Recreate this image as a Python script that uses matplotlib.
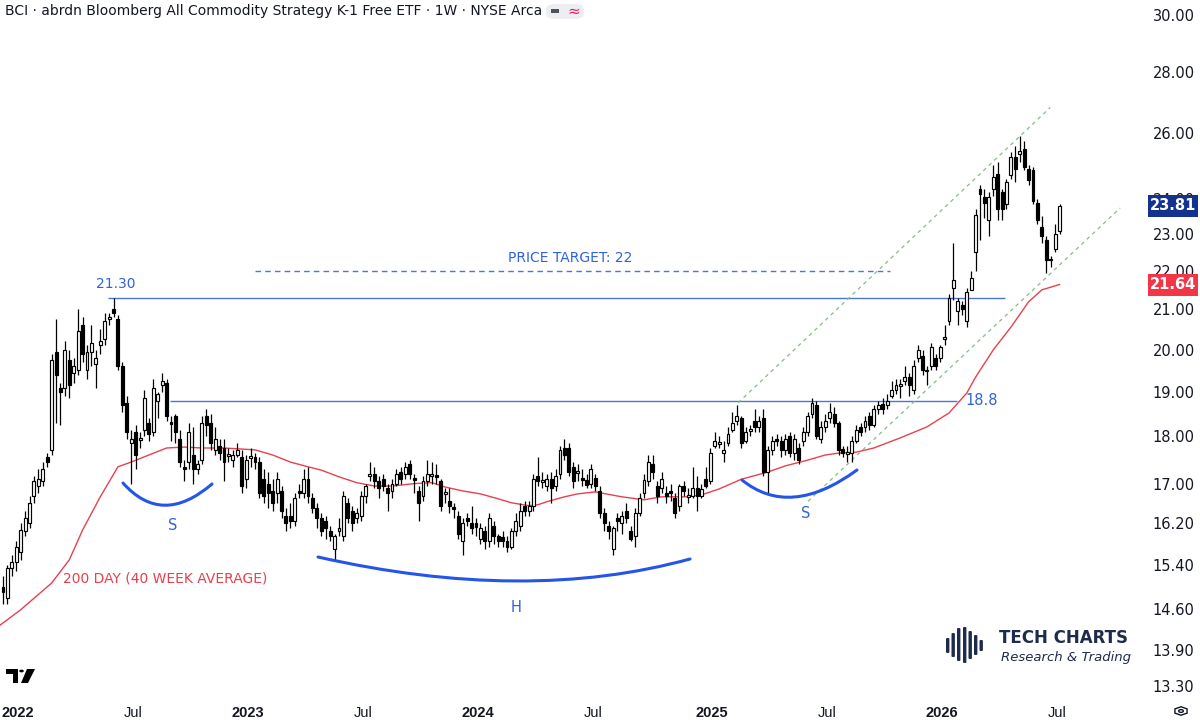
import numpy as np
import pandas as pd
import matplotlib
matplotlib.use("Agg")
import matplotlib.pyplot as plt
from matplotlib.patches import FancyBboxPatch, Polygon, Circle, RegularPolygon, Rectangle, PathPatch
from matplotlib.path import Path
from matplotlib.ticker import NullLocator, NullFormatter
from matplotlib.transforms import ScaledTranslation

plt.rcParams['font.family'] = ['DejaVu Sans']

# weekly candles of BCI, first bar week of 2021-12-13
first_week = '2021-12-13'

opens = [15.0, 14.8, 15.35, 15.45, 15.65, 16.05, 16.2, 16.75, 16.95, 17.05,
         17.55, 17.7, 19.95, 19.1, 19.1, 19.75, 19.45, 19.5, 20.6, 19.5,
         19.95, 19.65, 20.1, 20.25, 20.75, 21.0, 20.75, 19.6, 18.75, 17.85,
         18.1, 17.92, 18.15, 18.3, 18.1, 18.8, 19.15, 19.2, 18.32, 18.45,
         17.95, 17.35, 17.45, 17.6, 17.3, 17.5, 18.45, 18.3, 17.7, 17.8,
         17.75, 17.58, 17.5, 17.6, 17.55, 17.1, 17.53, 17.55, 17.45, 17.1,
         17.0, 16.85, 16.8, 16.85, 16.35, 16.35, 16.25, 16.85, 16.8, 17.1,
         16.7, 16.5, 16.3, 16.25, 16.05, 15.7, 16.05, 15.95, 16.6, 16.45,
         16.3, 16.35, 16.75, 17.15, 17.2, 17.05, 17.1, 16.9, 16.85, 17.0,
         17.25, 17.2, 17.4, 17.12, 16.85, 16.75, 17.05, 17.15, 17.17, 17.05,
         16.78, 16.65, 16.52, 16.35, 15.85, 16.3, 16.2, 16.2, 15.9, 16.05,
         15.85, 16.15, 15.95, 15.93, 15.85, 15.75, 16.05, 16.15, 16.55, 16.45,
         16.55, 17.15, 17.03, 16.95, 17.1, 16.95, 17.2, 17.75, 17.75, 17.35,
         17.23, 17.12, 17.08, 17.0, 17.12, 16.85, 16.4, 16.15, 15.7, 16.3,
         16.2, 16.45, 16.05, 15.95, 16.4, 16.8, 17.05, 17.4, 16.95, 16.9,
         16.8, 16.85, 16.7, 16.55, 16.95, 16.73, 16.75, 16.9, 16.75, 17.1,
         17.05, 17.8, 17.83, 17.65, 17.85, 18.15, 18.35, 18.4, 17.9, 18.13,
         18.35, 18.2, 18.4, 17.25, 17.7, 17.95, 17.9, 17.7, 18.0, 17.65,
         17.75, 17.9, 18.1, 18.5, 18.7, 17.95, 18.2, 18.4, 18.5, 18.3,
         17.72, 17.63, 17.65, 17.9, 18.2, 18.2, 18.45, 18.25, 18.6, 18.72,
         18.7, 18.9, 19.05, 19.13, 19.25, 19.35, 19.05, 19.8, 19.85, 19.48,
         19.6, 19.8, 19.8, 20.25, 20.7, 21.55, 20.95, 21.1, 20.7, 21.5,
         22.5, 24.3, 24.05, 23.4, 24.3, 24.75, 24.2, 23.85, 24.7, 25.25,
         25.35, 25.5, 24.9, 24.85, 23.9, 23.2, 22.85, 22.28, 22.6, 23.1]

highs = [15.2, 15.4, 15.6, 15.85, 16.2, 16.45, 16.75, 17.15, 17.3, 17.45,
         17.65, 19.9, 20.75, 19.2, 20.2, 20.0, 19.8, 21.0, 20.8, 20.1,
         20.6, 20.0, 20.5, 20.9, 20.9, 21.3, 20.85, 19.7, 18.9, 18.15,
         18.25, 18.1, 19.05, 18.4, 19.3, 19.0, 19.45, 19.3, 18.45, 18.5,
         18.15, 17.5, 18.3, 18.2, 17.5, 18.45, 18.6, 18.5, 18.2, 17.95,
         17.95, 17.75, 17.7, 17.85, 17.7, 17.6, 17.75, 17.65, 17.55, 17.3,
         17.25, 17.1, 17.25, 16.95, 16.5, 16.6, 16.8, 17.0, 17.3, 17.35,
         16.8, 16.6, 16.4, 16.35, 16.15, 16.0, 16.3, 16.85, 16.7, 16.55,
         16.5, 16.85, 17.0, 17.45, 17.35, 17.15, 17.2, 17.0, 17.1, 17.3,
         17.35, 17.45, 17.5, 17.2, 16.95, 17.15, 17.5, 17.45, 17.4, 17.1,
         16.9, 16.9, 16.6, 16.45, 16.3, 16.4, 16.55, 16.3, 16.2, 16.15,
         16.4, 16.25, 16.0, 16.05, 15.95, 16.1, 16.4, 16.6, 16.65, 16.65,
         17.2, 17.55, 17.25, 17.2, 17.25, 17.3, 17.8, 17.95, 17.85, 17.45,
         17.4, 17.3, 17.2, 17.4, 17.2, 16.95, 16.5, 16.25, 16.15, 16.4,
         16.45, 16.6, 16.15, 16.5, 16.8, 17.2, 17.6, 17.6, 17.05, 17.25,
         16.95, 17.0, 16.8, 17.0, 17.05, 16.9, 17.35, 17.15, 17.0, 17.35,
         17.75, 18.1, 18.0, 17.9, 18.2, 18.55, 18.7, 18.45, 18.2, 18.25,
         18.6, 18.45, 18.6, 17.8, 18.0, 18.05, 18.0, 18.05, 18.1, 18.05,
         17.85, 18.2, 18.55, 18.85, 18.8, 18.35, 18.5, 18.75, 18.65, 18.35,
         17.8, 17.8, 18.0, 18.25, 18.3, 18.45, 18.55, 18.7, 18.8, 18.85,
         18.95, 19.25, 19.3, 19.3, 19.6, 19.45, 19.75, 20.1, 20.0, 19.6,
         20.15, 19.9, 20.1, 20.6, 21.4, 22.75, 21.3, 21.2, 21.55, 22.0,
         23.7, 24.4, 24.3, 24.2, 25.0, 25.1, 24.3, 24.6, 25.4, 25.6,
         25.9, 25.75, 25.0, 24.95, 24.0, 23.5, 22.95, 22.4, 23.3, 23.85]

lows = [14.7, 14.7, 15.2, 15.3, 15.5, 15.95, 16.1, 16.6, 16.8, 16.95,
        17.35, 17.6, 18.3, 18.25, 18.9, 18.85, 19.2, 19.4, 19.7, 19.3,
        19.6, 19.1, 19.9, 20.1, 20.6, 20.8, 19.5, 18.55, 17.95, 17.0,
        17.3, 17.75, 18.0, 17.9, 18.0, 18.4, 19.0, 18.35, 17.9, 17.85,
        17.35, 17.05, 17.3, 17.0, 17.2, 17.4, 18.0, 17.7, 17.6, 17.5,
        17.05, 17.45, 17.35, 17.55, 16.8, 16.9, 17.35, 17.3, 16.7, 16.6,
        16.5, 16.45, 16.6, 16.3, 16.05, 16.1, 16.15, 16.7, 16.7, 16.6,
        16.4, 16.1, 15.95, 15.9, 15.85, 15.5, 15.95, 15.85, 16.2, 16.05,
        16.2, 16.25, 16.6, 17.05, 16.9, 16.7, 16.85, 16.45, 16.7, 16.95,
        17.0, 17.1, 17.1, 16.8, 16.25, 16.65, 16.95, 17.0, 17.0, 16.45,
        16.6, 16.4, 16.3, 15.9, 15.6, 16.15, 16.0, 15.95, 15.8, 15.7,
        15.75, 15.8, 15.75, 15.75, 15.65, 15.7, 15.95, 16.05, 16.35, 16.35,
        16.45, 16.95, 16.9, 16.85, 16.6, 16.85, 17.1, 17.5, 17.15, 16.9,
        17.05, 16.95, 16.9, 16.9, 16.85, 16.3, 16.05, 15.9, 15.6, 16.05,
        16.0, 16.2, 15.85, 15.75, 16.35, 16.7, 16.95, 17.1, 16.6, 16.8,
        16.6, 16.65, 16.3, 16.45, 16.75, 16.6, 16.7, 16.45, 16.7, 16.9,
        17.0, 17.75, 17.75, 17.45, 17.8, 18.1, 18.25, 17.75, 17.85, 18.0,
        18.1, 18.1, 17.15, 16.8, 17.6, 17.8, 17.55, 17.6, 17.55, 17.5,
        17.4, 17.8, 18.0, 18.4, 17.95, 17.85, 18.1, 18.3, 18.2, 17.6,
        17.55, 17.45, 17.45, 17.85, 18.0, 18.1, 18.15, 18.2, 18.5, 18.5,
        18.6, 18.85, 18.95, 18.85, 19.15, 18.9, 18.95, 19.7, 19.4, 19.15,
        19.5, 19.5, 19.7, 20.1, 20.6, 21.25, 20.6, 20.85, 20.55, 21.5,
        22.0, 22.85, 23.45, 22.95, 24.1, 23.4, 23.4, 23.7, 24.6, 24.5,
        25.1, 24.85, 24.4, 23.85, 23.3, 22.75, 21.95, 22.1, 22.5, 23.0]

closes = [14.9, 15.35, 15.45, 15.75, 16.07, 16.3, 16.6, 17.05, 17.1, 17.3,
          17.45, 19.75, 19.4, 19.0, 20.0, 19.15, 19.6, 20.45, 19.9, 19.95,
          20.15, 19.8, 20.2, 20.7, 20.8, 20.9, 19.6, 18.7, 18.1, 17.95,
          17.6, 17.97, 18.85, 18.05, 19.1, 18.95, 19.25, 18.45, 18.28, 18.1,
          17.45, 17.3, 18.1, 17.3, 17.4, 18.3, 18.25, 17.85, 17.95, 17.65,
          17.45, 17.62, 17.6, 17.7, 16.95, 17.5, 17.57, 17.45, 16.8, 16.75,
          16.8, 16.6, 17.1, 16.45, 16.2, 16.25, 16.7, 16.8, 17.1, 16.75,
          16.5, 16.3, 16.05, 16.1, 15.95, 15.95, 16.1, 16.75, 16.3, 16.2,
          16.4, 16.75, 16.95, 17.2, 17.05, 16.9, 16.95, 16.8, 17.0, 17.2,
          17.1, 17.35, 17.2, 17.08, 16.6, 17.05, 17.2, 17.2, 17.13, 16.55,
          16.82, 16.55, 16.48, 16.0, 16.2, 16.25, 16.1, 16.12, 16.1, 15.85,
          16.3, 15.95, 15.85, 15.85, 15.75, 16.05, 16.25, 16.45, 16.45, 16.55,
          17.1, 17.05, 17.07, 17.1, 16.9, 17.15, 17.7, 17.6, 17.25, 17.05,
          17.27, 17.08, 16.98, 17.3, 16.95, 16.4, 16.2, 16.05, 16.1, 16.25,
          16.35, 16.3, 15.9, 16.4, 16.7, 17.08, 17.45, 17.25, 16.75, 17.1,
          16.75, 16.8, 16.4, 16.95, 16.85, 16.77, 16.9, 16.75, 16.88, 16.95,
          17.65, 17.9, 17.87, 17.7, 18.05, 18.3, 18.45, 17.85, 18.1, 18.17,
          18.2, 18.35, 17.25, 17.7, 17.9, 17.9, 17.7, 17.95, 17.65, 17.95,
          17.5, 18.1, 18.45, 18.75, 18.0, 18.2, 18.35, 18.55, 18.3, 17.7,
          17.65, 17.67, 17.9, 18.15, 18.1, 18.35, 18.25, 18.6, 18.7, 18.6,
          18.8, 19.05, 19.15, 19.18, 19.35, 19.15, 19.6, 20.0, 19.5, 19.52,
          20.05, 19.6, 20.05, 20.3, 21.3, 21.75, 21.2, 21.0, 21.45, 21.8,
          23.55, 24.15, 23.9, 24.05, 24.65, 23.7, 23.7, 24.5, 25.25, 24.9,
          25.45, 24.95, 24.55, 23.95, 23.4, 22.95, 22.3, 22.33, 23.0, 23.81]

# 40 week average (week number, value)
ma_weeks = [-1, 4, 11, 15, 18, 22, 26, 29, 33, 37, 41, 45, 50, 57, 61, 65, 69, 72, 76, 80,
            84, 88, 93, 97, 100, 104, 108, 112, 115, 119, 121, 123, 127, 130, 134, 140, 145, 149, 155, 158,
            162, 167, 173, 177, 182, 186, 189, 193, 197, 200, 203, 209, 214, 218, 220, 224, 228, 232, 235, 239]
ma_values = [14.30, 14.59, 15.07, 15.50, 16.07, 16.73, 17.35, 17.45, 17.60, 17.75,
             17.77, 17.75, 17.75, 17.71, 17.60, 17.45, 17.35, 17.28, 17.14, 17.02,
             16.95, 16.95, 17.00, 17.02, 16.93, 16.85, 16.79, 16.69, 16.61, 16.55,
             16.57, 16.63, 16.73, 16.79, 16.83, 16.73, 16.67, 16.73, 16.73, 16.77,
             16.89, 17.09, 17.24, 17.37, 17.49, 17.60, 17.64, 17.66, 17.75, 17.86,
             17.97, 18.21, 18.52, 18.97, 19.34, 19.99, 20.55, 21.19, 21.50, 21.64]

price_ticks = [30, 28, 26, 24, 23, 22, 21, 20, 19, 18, 17, 16.2, 15.4, 14.6, 13.9, 13.3]
last_price = 23.81
last_ma = 21.64
neckline_high = 21.30
neckline = 18.8
target = 22.0

W, H = 1200, 725
TXT = '#131722'
BLUE = '#2f62e0'
RED = '#e8404e'
NAVY = '#1e2b4d'

fig = plt.figure(figsize=(12, 7.25), dpi=100)
ax = fig.add_axes([0, 27 / H, 1140 / W, 698 / H])
ax.set_yscale('log')
ax.set_xlim(-0.68, 257.2)
ax.set_ylim(13.11, 30.55)
for s in ax.spines.values():
    s.set_visible(False)


def fpx(px, py):
    # reference pixel -> figure fraction
    return px / W, 1 - py / H


def apx(px, py):
    # reference pixel -> axes fraction
    return px / 1140, (698 - py) / 698


o = np.array(opens)
h = np.array(highs)
l = np.array(lows)
c = np.array(closes)
x = np.arange(len(c))
up = c >= o
body_lo = np.minimum(o, c)
body_h = np.abs(c - o)

ax.vlines(x, l, h, color='black', lw=0.9, zorder=3)
ax.bar(x[up], body_h[up], bottom=body_lo[up], width=0.66, color='white',
       edgecolor='black', linewidth=0.85, zorder=4)
ax.bar(x[~up], body_h[~up], bottom=body_lo[~up], width=0.66, color='black',
       edgecolor='black', linewidth=0.85, zorder=4)

ax.plot(ma_weeks, ma_values, color=RED, lw=1.0, zorder=2)

# horizontal levels
ax.hlines(neckline_high, 23.8, 226.7, color='#4a76d6', lw=1.0, zorder=2)
ax.hlines(neckline, 37.8, 215.8, color='#4a76d6', lw=1.0, zorder=2)
ax.hlines(target, 57.0, 200.7, color='#4a76d6', lw=1.0, linestyles=(0, (4, 3)), zorder=2)
ax.annotate('21.30', (25.6, neckline_high), xytext=(0, 9.5), textcoords='offset points',
            ha='center', va='center', color=BLUE, fontsize=10)
ax.annotate('PRICE TARGET: 22', (128.3, target), xytext=(0, 9.5), textcoords='offset points',
            ha='center', va='center', color=BLUE, fontsize=10)
ax.annotate('18.8', (217.6, neckline), xytext=(0, 0), textcoords='offset points',
            ha='left', va='center', color=BLUE, fontsize=10.5)

# rising channel
ax.plot([166.3, 236.9], [18.75, 26.82], color='#86bd86', lw=0.9, ls=(0, (3, 3)), zorder=2)
ax.plot([182.1, 252.7], [16.64, 23.74], color='#86bd86', lw=0.9, ls=(0, (3, 3)), zorder=2)

# shoulders and head arcs
for p0, p1, p2 in [((123, 483), (162, 527), (212, 484)),
                   ((318, 557), (526, 604), (690, 559)),
                   ((742, 480), (790, 519), (857, 470))]:
    verts = [apx(*p0), apx(*p1), apx(*p2)]
    ax.add_patch(PathPatch(Path(verts, [Path.MOVETO, Path.CURVE3, Path.CURVE3]),
                           transform=ax.transAxes, fill=False, edgecolor='#2356e8',
                           lw=2.2, capstyle='round', zorder=5))
for lab, px, py in [('S', 173, 525), ('H', 516, 607), ('S', 806, 513)]:
    ax.text(*apx(px, py), lab, transform=ax.transAxes, ha='center', va='center',
            color=BLUE, fontsize=10.5)

ax.text(*apx(63, 579), '200 DAY (40 WEEK AVERAGE)', transform=ax.transAxes,
        ha='left', va='center', color=RED, fontsize=10)

# axes ticks
ax.yaxis.tick_right()
ax.yaxis.set_minor_locator(NullLocator())
ax.yaxis.set_minor_formatter(NullFormatter())
ax.set_yticks(price_ticks)
ax.set_yticklabels(['%.2f' % v for v in price_ticks])
ax.tick_params(axis='y', length=0, pad=9, labelsize=10.5, labelcolor=TXT)

weeks = pd.date_range(first_week, periods=len(closes), freq='7D')
tick_pos, tick_lab = [], []
for i in range(1, len(weeks)):
    if weeks[i].year != weeks[i - 1].year:
        tick_pos.append(i)
        tick_lab.append(str(weeks[i].year))
    elif weeks[i].month == 7 and weeks[i - 1].month == 6:
        tick_pos.append(i)
        tick_lab.append('Jul')
ax.set_xticks(tick_pos)
ax.set_xticklabels(tick_lab)
ax.tick_params(axis='x', length=0, pad=6, labelsize=10.5, labelcolor=TXT)
nudge = ScaledTranslation(2 / 100, 0, fig.dpi_scale_trans)
for t in ax.get_xticklabels():
    t.set_family(['Liberation Sans', 'DejaVu Sans'])
    t.set_transform(t.get_transform() + nudge)
    if t.get_text().isdigit():
        t.set_fontweight('bold')

# last price / average tags on the price scale
for val, col in [(last_price, '#13318f'), (last_ma, '#f23645')]:
    yd = ax.transData.transform((0, val))[1]
    yf = fig.transFigure.inverted().transform((0, yd))[1]
    fig.add_artist(Rectangle((1148 / W, yf - 11 / H), 50 / W, 22 / H,
                             transform=fig.transFigure, facecolor=col, edgecolor='none', zorder=10))
    fig.text(1173 / W, yf, '%.2f' % val, ha='center', va='center', color='white',
             fontsize=10.5, fontweight='bold', zorder=11)

# header
fig.text(*fpx(5, 11), 'BCI \u00b7 abrdn Bloomberg All Commodity Strategy K-1 Free ETF \u00b7 1W \u00b7 NYSE Arca',
         ha='left', va='center', fontsize=10, color=TXT)
fig.add_artist(FancyBboxPatch(fpx(546, 19), 38 / W, 15 / H, boxstyle='round,pad=0,rounding_size=0.008',
                              transform=fig.transFigure, facecolor='#eceef2', edgecolor='none'))
fig.add_artist(Rectangle(fpx(551, 12.5), 8 / W, 3 / H, transform=fig.transFigure,
                         facecolor='#50535e', edgecolor='none'))
fig.text(*fpx(574, 11), '\u2248', ha='center', va='center', fontsize=11, color='#e91e63')

# TradingView mark
fig.add_artist(Polygon([fpx(6, 669), fpx(18, 669), fpx(18, 683), fpx(13, 683), fpx(13, 674), fpx(6, 674)],
                       closed=True, transform=fig.transFigure, facecolor='black', edgecolor='none'))
fig.add_artist(Circle(fpx(21.5, 671), 2.3 / W, transform=fig.transFigure, facecolor='black'))
fig.add_artist(Polygon([fpx(27, 669), fpx(35, 669), fpx(28, 683), fpx(21, 683)], closed=True,
                       transform=fig.transFigure, facecolor='black', edgecolor='none'))

# Tech Charts logo
for bx, top, bot in [(946, 638, 653), (951.5, 633, 657), (957, 628, 661), (963, 627, 663),
                     (968.5, 631, 659), (974, 635, 655), (979.5, 640, 651)]:
    fig.add_artist(FancyBboxPatch(fpx(bx, bot), 3.4 / W, (bot - top) / H,
                                  boxstyle='round,pad=0,rounding_size=0.0012',
                                  transform=fig.transFigure, facecolor=NAVY, edgecolor='none'))
fig.text(*fpx(999, 638), 'TECH CHARTS', ha='left', va='center', fontsize=12,
         fontweight='bold', color=NAVY)
fig.text(*fpx(1001, 657), 'Research & Trading', ha='left', va='center', fontsize=9.5,
         style='italic', color=NAVY)

# settings glyph
fig.add_artist(RegularPolygon(fpx(1181, 711), 6, radius=7 / W, transform=fig.transFigure,
                              facecolor='none', edgecolor=TXT, lw=1.0))
fig.add_artist(Circle(fpx(1181, 711), 2.3 / W, transform=fig.transFigure,
                      facecolor='none', edgecolor=TXT, lw=1.0))

fig.savefig('out.png', dpi=100)
